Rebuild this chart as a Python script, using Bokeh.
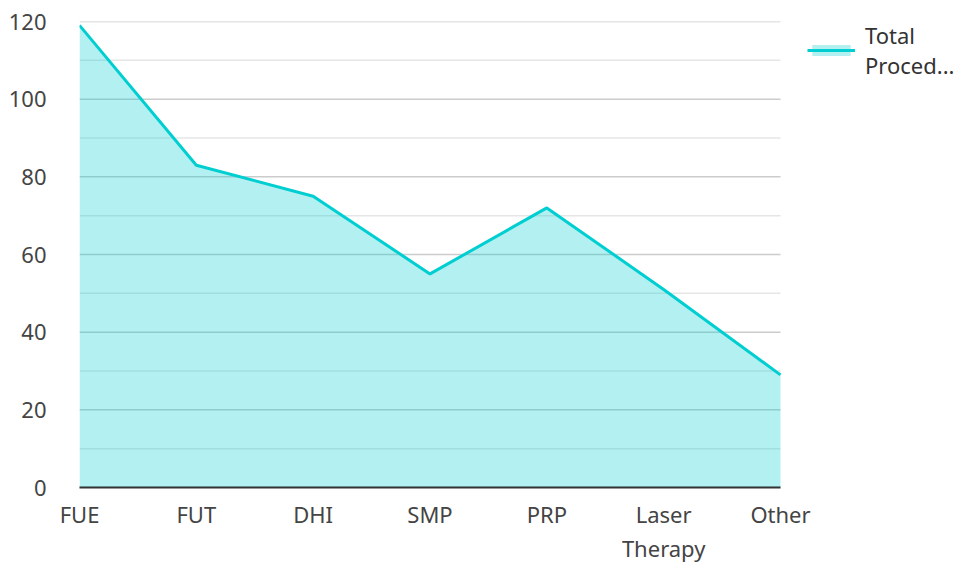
from bokeh.plotting import figure
from bokeh.models import Range1d, FixedTicker, Legend, LegendItem, ColumnDataSource
from bokeh.embed import file_html
from bokeh.resources import INLINE

categories = ["FUE", "FUT", "DHI", "SMP", "PRP", "Laser\nTherapy", "Other"]
values = [119, 83, 75, 55, 72, 51, 29]
series_name = "Total\nProced..."
y_ticks = [0, 20, 40, 60, 80, 100, 120]
y_minor = [10, 30, 50, 70, 90, 110]

n = len(categories)
xs = list(range(n))
src = ColumnDataSource(dict(x=xs, y=values, y0=[0] * n))

plot_w = 701      # width of the data area in px
frame_w = 885     # frame also holds the legend on the right
x_end = (n - 1) * frame_w / plot_w

p = figure(frame_width=frame_w, frame_height=466, output_backend="svg", toolbar_location=None,
           x_range=Range1d(0, x_end), y_range=Range1d(0, 120),
           min_border_left=79, min_border_right=0, min_border_top=21, min_border_bottom=73)
p.outline_line_color = None
p.background_fill_color = "white"
p.xgrid.grid_line_color = None
p.ygrid.grid_line_color = None

# horizontal grid lines, limited to the data area
p.segment(x0=[0] * len(y_minor), x1=[n - 1] * len(y_minor), y0=y_minor, y1=y_minor,
          line_color="#e6e6e6", line_width=1.5)
p.segment(x0=[0] * len(y_ticks), x1=[n - 1] * len(y_ticks), y0=y_ticks, y1=y_ticks,
          line_color="#cccccc", line_width=1.5)

area = p.varea(x="x", y1="y0", y2="y", source=src, fill_color="#00CED1", fill_alpha=0.3)
line = p.line(x="x", y="y", source=src, line_color="#00CED1", line_width=3)

font = "Noto Sans"
p.xaxis.ticker = FixedTicker(ticks=xs)
p.xaxis.major_label_overrides = {i: c for i, c in enumerate(categories)}
p.xaxis.bounds = (0, n - 1)
p.yaxis.ticker = FixedTicker(ticks=y_ticks, minor_ticks=y_minor)
for ax in (p.xaxis, p.yaxis):
    ax.major_tick_line_color = None
    ax.minor_tick_line_color = None
    ax.major_label_text_font = font
    ax.major_label_text_font_size = "22px"
    ax.major_label_text_color = "#444444"
p.yaxis.axis_line_color = None
p.yaxis.major_label_standoff = 27
p.xaxis.axis_line_color = "#333333"
p.xaxis.axis_line_width = 2
p.xaxis.major_label_standoff = 5
p.xaxis.major_label_text_line_height = 1.15

legend = Legend(items=[LegendItem(label=series_name, renderers=[area, line])],
                location=(728, 407), border_line_color=None, background_fill_alpha=0,
                glyph_width=48, glyph_height=14, label_text_font=font,
                label_text_font_size="22px", label_text_color="#333333",
                margin=0, padding=0, label_standoff=10)
legend.label_text_line_height = 1.2
p.add_layout(legend, "center")

open("out.html", "w").write(file_html(p, INLINE))
